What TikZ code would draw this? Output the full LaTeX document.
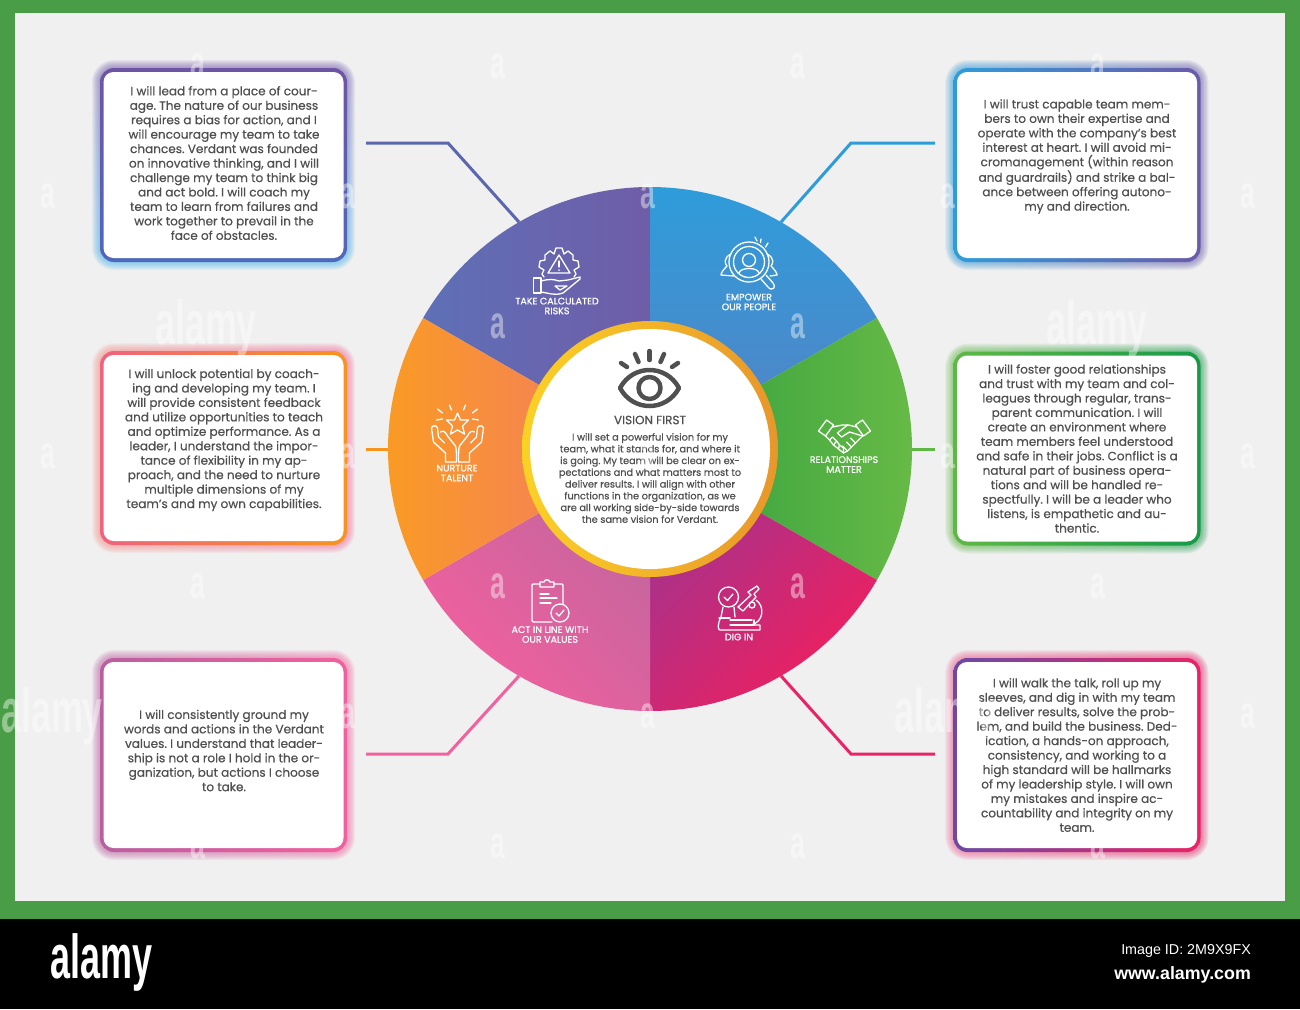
\documentclass[tikz,border=0pt]{standalone}
\usepackage{fontspec}
\setmainfont[FakeBold=0.6]{Poppins}
\newfontfamily\markfont[FakeStretch=0.58]{Liberation Sans}
\newfontfamily\sitefont{Liberation Sans}
\frenchspacing
\usetikzlibrary{shapes.geometric}
\definecolor{frame}{HTML}{4A9D47}
\definecolor{paper}{HTML}{F0F0F0}
\definecolor{ink}{HTML}{505050}
\definecolor{riskblue}{HTML}{5E70B6}
\definecolor{riskviolet}{HTML}{6F5DA8}
\definecolor{riskglow}{HTML}{3FB8F0}
\definecolor{risktop}{HTML}{7357AA}
\definecolor{riskedge}{HTML}{6D55A5}
\definecolor{risklow}{HTML}{5068BC}
\definecolor{risklink}{HTML}{5A66AE}
\definecolor{peoplesky}{HTML}{2F9CDA}
\definecolor{peoplelow}{HTML}{5582C4}
\definecolor{peopleviolet}{HTML}{6A5BAB}
\definecolor{trustdark}{HTML}{2E9E3E}
\definecolor{trustlight}{HTML}{69BB46}
\definecolor{trustleft}{HTML}{5FB846}
\definecolor{trustright}{HTML}{169A48}
\definecolor{diginviolet}{HTML}{A03490}
\definecolor{diginred}{HTML}{F01F5E}
\definecolor{diginglow}{HTML}{EE5A8C}
\definecolor{diginleft}{HTML}{6A4AA5}
\definecolor{diginright}{HTML}{EA2266}
\definecolor{valuesdim}{HTML}{C0669E}
\definecolor{valuespink}{HTML}{F2609E}
\definecolor{valuesleft}{HTML}{B95F9F}
\definecolor{talentorange}{HTML}{FA9C22}
\definecolor{talentsalmon}{HTML}{F2786A}
\definecolor{talentedge}{HTML}{F0627F}
\definecolor{talentglow}{HTML}{F08C7E}
\definecolor{talentlow}{HTML}{F0649C}
\definecolor{talentright}{HTML}{F7941D}
\definecolor{ringyellow}{HTML}{FBD126}
\definecolor{ringorange}{HTML}{E8962A}
\tikzstyle{wedge}=[draw=none]
\tikzstyle{glowlayer}=[rectangle, inner sep=0pt, outer sep=0pt, fill opacity=0.085]
\tikzstyle{edgelayer}=[rectangle, inner sep=0pt, outer sep=0pt, minimum width=247pt, minimum height=194pt, rounded corners=14pt]
\tikzstyle{whitebox}=[rectangle, fill=white, inner sep=0pt, outer sep=0pt, minimum width=240pt, minimum height=186pt, rounded corners=10pt]
\tikzstyle{boxtext}=[align=center, text=ink, inner sep=0pt, font=\fontsize{12.05}{14.45}\selectfont]
\tikzstyle{coretext}=[align=center, text=ink, inner sep=0pt, font=\fontsize{9.75}{11.75}\selectfont]
\tikzstyle{wheeltext}=[align=center, text=white, inner sep=0pt, font=\fontsize{9.5}{9.8}\selectfont]
\tikzstyle{link}=[line width=3pt]
\tikzstyle{iconline}=[white, line width=1.3pt, line cap=round, line join=round]
\tikzstyle{eyeline}=[ink, line width=4.5pt, line cap=round, line join=round]
\tikzstyle{wmark}=[white, opacity=0.42, inner sep=0pt, font=\markfont\bfseries\fontsize{46}{46}\selectfont]
\tikzstyle{wword}=[white, opacity=0.42, inner sep=0pt, font=\markfont\bfseries\fontsize{62}{62}\selectfont]
\newcommand{\glowbox}[8]{%
  \foreach \g in {8,7,...,1}
    \node[glowlayer, top color=#4, bottom color=#5, shading angle=#8, minimum width={(247+2*\g)*1pt}, minimum height={(194+2*\g)*1pt}, rounded corners={(14+\g)*1pt}] (#1glow\g) at (#2,#3) {};
  \node[edgelayer, top color=#6, bottom color=#7, shading angle=#8] (#1edge) at (#2,#3) {};
  \node[whitebox] (#1box) at (#2,#3) {};
}
\begin{document}
\begin{tikzpicture}[x=1pt, y=-1pt]
    \useasboundingbox (0,0) rectangle (1300,1009);
    \fill[frame] (0,0) rectangle (1300,919);
    \fill[paper] (15,13) rectangle (1285,901);
    \fill[black] (0,919) rectangle (1300,1009);

    \glowbox{risk}{223.5}{165}{risktop}{riskglow}{riskedge}{risklow}{0}
    \glowbox{talent}{223.5}{448}{talentglow}{talentlow}{talentedge}{talentright}{90}
    \glowbox{values}{223.5}{755}{valuesleft}{valuespink}{valuesleft}{valuespink}{90}
    \glowbox{people}{1077}{165}{peoplesky}{peopleviolet}{peoplesky}{peopleviolet}{90}
    \glowbox{trust}{1077}{448.5}{trustleft}{trustright}{trustleft}{trustright}{90}
    \glowbox{digin}{1077}{755}{diginglow}{diginright}{diginleft}{diginright}{90}

    \node[boxtext] (risktext) at (224,163) {I will lead from a place of cour-\\age. The nature of our business\\requires a bias for action, and I\\will encourage my team to take\\chances. Verdant was founded\\on innovative thinking, and I will\\challenge my team to think big\\and act bold. I will coach my\\team to learn from failures and\\work together to prevail in the\\face of obstacles.};
    \node[boxtext] (talenttext) at (224,440) {I will unlock potential by coach-\\ing and developing my team. I\\will provide consistent feedback\\and utilize opportunities to teach\\and optimize performance. As a\\leader, I understand the impor-\\tance of flexibility in my ap-\\proach, and the need to nurture\\multiple dimensions of my\\team's and my own capabilities.};
    \node[boxtext] (valuestext) at (224,750.5) {I will consistently ground my\\words and actions in the Verdant\\values. I understand that leader-\\ship is not a role I hold in the or-\\ganization, but actions I choose\\to take.};
    \node[boxtext] (peopletext) at (1077,156.5) {I will trust capable team mem-\\bers to own their expertise and\\operate with the company's best\\interest at heart. I will avoid mi-\\cromanagement (within reason\\and guardrails) and strike a bal-\\ance between offering autono-\\my and direction.};
    \node[boxtext] (trusttext) at (1077,448.5) {I will foster good relationships\\and trust with my team and col-\\leagues through regular, trans-\\parent communication. I will\\create an environment where\\team members feel understood\\and safe in their jobs. Conflict is a\\natural part of business opera-\\tions and will be handled re-\\spectfully. I will be a leader who\\listens, is empathetic and au-\\thentic.};
    \node[boxtext] (digintext) at (1077,755) {I will walk the talk, roll up my\\sleeves, and dig in with my team\\to deliver results, solve the prob-\\lem, and build the business. Ded-\\ication, a hands-on approach,\\consistency, and working to a\\high standard will be hallmarks\\of my leadership style. I will own\\my mistakes and inspire ac-\\countability and integrity on my\\team.};

    \node[circle, inner sep=0pt, outer sep=0pt, minimum size=524pt] (wheel) at (650,449) {};
    \shade[wedge, top color=riskblue, bottom color=riskviolet, shading angle=90] (wheel.center) -- (wheel.90) arc[start angle=90, end angle=150, radius=262pt] -- cycle;
    \shade[wedge, top color=peoplesky, bottom color=peoplelow, shading angle=0] (wheel.center) -- (wheel.30) arc[start angle=30, end angle=90, radius=262pt] -- cycle;
    \shade[wedge, top color=trustdark, bottom color=trustlight, shading angle=90] (wheel.center) -- (wheel.-30) arc[start angle=-30, end angle=30, radius=262pt] -- cycle;
    \shade[wedge, top color=diginviolet, bottom color=diginred, shading angle=45] (wheel.center) -- (wheel.-90) arc[start angle=-90, end angle=-30, radius=262pt] -- cycle;
    \shade[wedge, top color=valuesdim, bottom color=valuespink, shading angle=-45] (wheel.center) -- (wheel.210) arc[start angle=210, end angle=270, radius=262pt] -- cycle;
    \shade[wedge, top color=talentorange, bottom color=talentsalmon, shading angle=90] (wheel.center) -- (wheel.150) arc[start angle=150, end angle=210, radius=262pt] -- cycle;

    \coordinate (riskend) at (366,143);
    \coordinate (riskbend) at (448,143);
    \coordinate (peopleend) at (935,143);
    \coordinate (peoplebend) at (851,143);
    \coordinate (talentend) at (366,449);
    \coordinate (trustend) at (935,449);
    \coordinate (valuesend) at (366,754);
    \coordinate (valuesbend) at (448,754);
    \coordinate (diginend) at (935,754);
    \coordinate (diginbend) at (851,754);
    \draw[link, color=risklink] (riskend) -- (riskbend) -- (wheel.120);
    \draw[link, color=peoplesky] (peopleend) -- (peoplebend) -- (wheel.60);
    \draw[link, color=talentright] (talentend) -- (wheel.180);
    \draw[link, color=trustleft] (trustend) -- (wheel.0);
    \draw[link, color=valuespink] (valuesend) -- (valuesbend) -- (wheel.240);
    \draw[link, color=diginright] (diginend) -- (diginbend) -- (wheel.300);

    \node[circle, inner sep=0pt, outer sep=0pt, minimum size=256pt, top color=ringyellow, bottom color=ringorange, shading angle=90] (ring) at (650,449) {};
    \node[circle, fill=white, inner sep=0pt, outer sep=0pt, minimum size=240pt] (core) at (650,449) {};

    \draw[eyeline] (620,388) .. controls (633,364) and (666,364) .. (679,388) .. controls (666,412) and (633,412) .. (620,388) -- cycle;
    \draw[eyeline] (649.5,388) circle (11pt);
    \draw[eyeline] (649.5,351) -- (649.5,360);
    \draw[eyeline] (635,354) -- (638.5,362);
    \draw[eyeline] (664,354) -- (660.5,362);
    \draw[eyeline] (621,363) -- (627,367);
    \draw[eyeline] (678,363) -- (672,367);
    \node[text=ink, inner sep=0pt, font=\fontsize{12}{13}\selectfont] (vision) at (650,420) {VISION FIRST};
    \node[coretext] (visiontext) at (650,478) {I will set a powerful vision for my\\team, what it stands for, and where it\\is going. My team will be clear on ex-\\pectations and what matters most to\\deliver results. I will align with other\\functions in the organization, as we\\are all working side-by-side towards\\the same vision for Verdant.};

    \node[wheeltext] (risklabel) at (557,306) {TAKE CALCULATED\\RISKS};
    \node[wheeltext] (peoplelabel) at (749,302) {EMPOWER\\OUR PEOPLE};
    \node[wheeltext] (talentlabel) at (457,473) {NURTURE\\TALENT};
    \node[wheeltext] (trustlabel) at (844,464.5) {RELATIONSHIPS\\MATTER};
    \node[wheeltext] (valueslabel) at (550,634.5) {ACT IN LINE WITH\\OUR VALUES};
    \node[wheeltext] (diginlabel) at (739,637) {DIG IN};

    \begin{scope}[shift={(559,266)}]
        \draw[iconline] (-15,11) -- (-17,8) -- (-15,4) -- (-20,1) -- (-19,-5) -- (-14,-6) -- (-14,-11) -- (-9,-15) -- (-5,-12) -- (-3,-18) -- (3,-18) -- (5,-12) -- (9,-15) -- (14,-11) -- (14,-6) -- (19,-5) -- (20,1) -- (15,4) -- (17,8) -- (15,11);
        \draw[iconline] (0,-11) -- (11,7) -- (-11,7) -- cycle;
        \draw[iconline] (0,-5) -- (0,1) (0,4) -- (0,4.2);
        \draw[iconline] (-25.5,12) rectangle (-18,27);
        \draw[iconline] (-18,15) .. controls (-10,13) and (-6,13) .. (0,15) -- (9,14) -- (21,11) -- (21,13) -- (4,27) .. controls (-5,30) and (-10,27) .. (-18,26);
        \draw[iconline] (-4,20) -- (8,20) -- (1,24) -- cycle;
    \end{scope}

    \begin{scope}[shift={(749,262)}]
        \draw[iconline] (0,0) circle (20pt);
        \draw[iconline] (0,0) circle (15.5pt);
        \draw[iconline] (0,-2) circle (6.5pt);
        \draw[iconline] (-10,11) .. controls (-9,5) and (9,5) .. (10,11);
        \draw[iconline] (12,17) -- (19,25) .. controls (23,30) and (28,25) .. (24,21) -- (17,13);
        \draw[iconline] (-18,-8) .. controls (-26,-4) and (-24,2) .. (-22,4) .. controls (-26,8) and (-28,11) .. (-28,13) -- (-15,14);
        \draw[iconline] (18,-8) .. controls (26,-4) and (24,2) .. (22,4) .. controls (26,8) and (28,11) .. (28,13) -- (21,14);
        \draw[iconline] (6,-25) -- (8,-21) (12,-23) -- (11.5,-19.5) (19,-19) -- (16.5,-15);
    \end{scope}

    \begin{scope}[shift={(457.5,424)}]
        \draw[iconline] (0,-11) -- (3,-4) -- (11,-4) -- (5,2) -- (7,10) -- (0,6) -- (-7,10) -- (-5,2) -- (-11,-4) -- (-3,-4) -- cycle;
        \draw[iconline] (-20,-15) -- (-15,-11) (-21,-4) -- (-15,-5) (-8,-19) -- (-6,-14);
        \draw[iconline] (20,-15) -- (15,-11) (21,-4) -- (15,-5) (8,-19) -- (6,-14);
        \draw[iconline] (-12,38) -- (-12,29) -- (-24,18) -- (-26,4) .. controls (-25,1) and (-21,1) .. (-20,4) -- (-19,13) -- (-13,19) (-17,8) .. controls (-14,6) and (-12,8) .. (-10,12) -- (-2,22) .. controls (-1,25) and (-1,30) .. (-1,38) -- (-12,38);
        \draw[iconline] (12,38) -- (12,29) -- (24,18) -- (26,4) .. controls (25,1) and (21,1) .. (20,4) -- (19,13) -- (13,19) (17,8) .. controls (14,6) and (12,8) .. (10,12) -- (2,22) .. controls (1,25) and (1,30) .. (1,38) -- (12,38);
    \end{scope}

    \begin{scope}[shift={(844.5,436)}]
        \draw[iconline] (-26,-5) -- (-18,-16) -- (-11,-11) -- (-19,0) -- cycle;
        \draw[iconline] (26,-5) -- (18,-16) -- (11,-11) -- (19,0) -- cycle;
        \draw[iconline] (-12,-9) -- (-2,-11) -- (4,-11) -- (12,-9);
        \draw[iconline] (3,-11) -- (-7,-3) -- (-3,1) -- (5,-4) -- (18,0);
        \draw[iconline] (-19,0) -- (-15,4) -- (-11,9) -- (-6,13) -- (-1,17) -- (3,15) -- (7,11) -- (11,7) -- (15,3) -- (18,0);
        \draw[iconline] (-15,4) -- (-12,1) -- (-8,5) -- (-11,9) (-8,5) -- (-5,9) -- (-6,13) (-5,9) -- (-1,12) -- (-1,17);
        \draw[iconline] (3,15) -- (-2,10) (7,11) -- (2,6) (11,7) -- (6,2);
    \end{scope}

    \begin{scope}[shift={(532,584)}]
        \draw[iconline] (20,38) -- (2,38) .. controls (0,38) and (0,37) .. (0,36) -- (0,2) .. controls (0,0) and (0,0) .. (2,0) -- (8,0) (22,0) -- (29,0) .. controls (31,0) and (31,0) .. (31,2) -- (31,20);
        \draw[iconline] (8,3) -- (8,-2) -- (12,-2) .. controls (13,-5) and (17,-5) .. (18,-2) -- (22,-2) -- (22,3) -- cycle;
        \draw[iconline] (8,10) -- (17,10) (8,14) -- (25,14) (8,19) -- (19,19);
        \draw[iconline] (28,29) circle (9pt);
        \draw[iconline] (24,29) -- (27,32) -- (32,26);
    \end{scope}

    \begin{scope}[shift={(718,587)}]
        \draw[iconline] (10.5,10) circle (10pt);
        \draw[iconline] (6,10) -- (9.5,13.5) -- (15,7);
        \draw[iconline] (30,5) -- (39,-1) -- (41,2) -- (36,7) -- (38,10) -- (25,24) -- (20,20) -- (33,8) -- cycle;
        \draw[iconline] (34,18) circle (3pt);
        \draw[iconline] (38,13) .. controls (47,19) and (46,35) .. (33,38);
        \draw[iconline] (12,33) -- (34,33) (12,38) -- (36,38) -- (36,33);
        \draw[iconline] (5,20) -- (3,30) .. controls (-1,38) and (0,43) .. (2,43) -- (42,43) -- (42,38) -- (33,38);
        \draw[iconline] (16,20) -- (17,30);
        \draw[iconline] (1,31) -- (12,31);
    \end{scope}

    \node[inner sep=0pt, white, anchor=base west, font=\markfont\bfseries\fontsize{62}{62}\selectfont] (brand) at (50,978) {alamy};
    \node[inner sep=0pt, white, anchor=east, font=\sitefont\fontsize{14.3}{16}\selectfont] (imageid) at (1251,951) {Image ID: 2M9X9FX};
    \node[inner sep=0pt, white, anchor=east, font=\sitefont\bfseries\fontsize{17.8}{18}\selectfont] (site) at (1251,975) {www.alamy.com};

    \foreach \wx/\wy in {198/66, 498/66, 798/66, 1098/66, 48/196, 348/196, 648/196, 948/196, 1248/196, 498/326, 798/326, 48/456, 348/456, 648/456, 948/456, 1248/456, 198/586, 498/586, 798/586, 1098/586, 348/716, 648/716, 1248/716, 198/846, 498/846, 798/846, 1098/846}
        \node[wmark] (mark\wx-\wy) at (\wx,\wy) {a};
    \foreach \wx/\wy in {206/328, 1097/328, 52/716, 945/716}
        \node[wword] (word\wx-\wy) at (\wx,\wy) {alamy};
\end{tikzpicture}
\end{document}
